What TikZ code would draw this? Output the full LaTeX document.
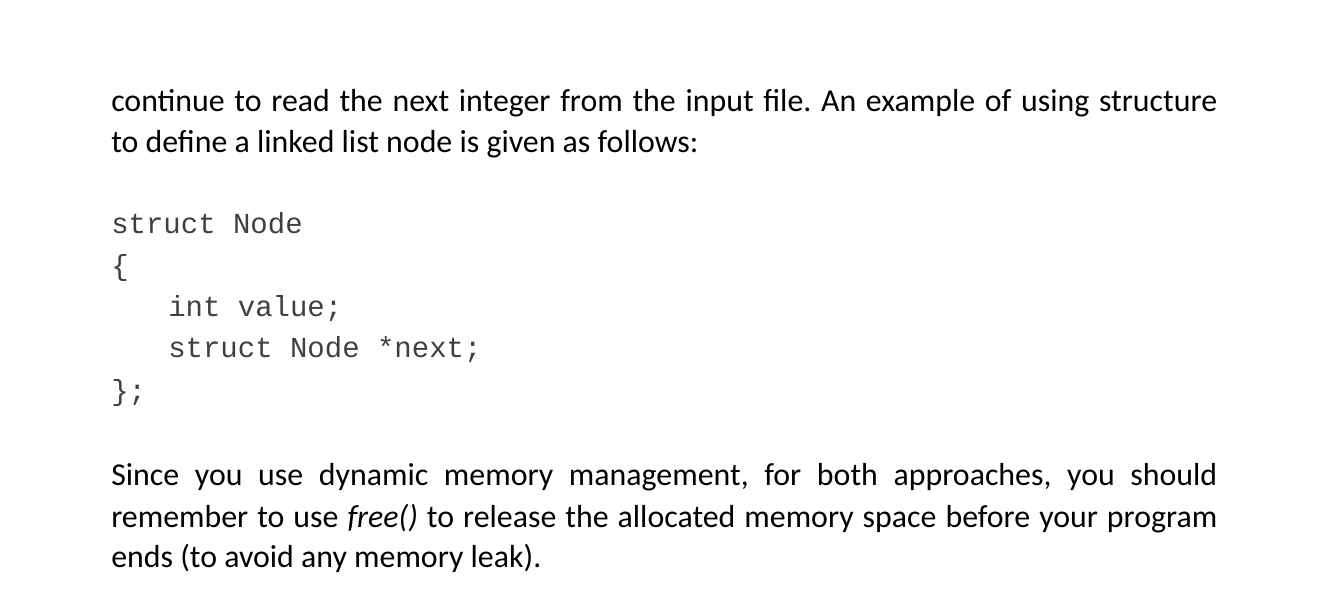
\documentclass[tikz,border=0pt]{standalone}
\usepackage{fontspec}
\setmainfont{Carlito}
\newfontfamily\codefont{Liberation Mono}
\frenchspacing
\tikzset{txt/.style={anchor=base west,inner sep=0pt,font=\fontsize{23.9}{28}\selectfont},
code/.style={anchor=base west,inner sep=0pt,font=\codefont\fontsize{21.75}{26}\selectfont\color{black!75}}}
\newcommand{\jline}[1]{\parbox{829.5pt}{\parfillskip=0pt #1\par}}
\begin{document}
\begin{tikzpicture}[x=0.75pt,y=-0.75pt]
\useasboundingbox[fill=white] (0,0) rectangle (1328,595);
\node[txt] (l1) at (111,111) {\jline{continue to read the next integer from the input file. An example of using structure}};
\node[txt] (l2) at (111,153) {to define a linked list node is given as follows:};
\node[code] (c1) at (111,234) {struct Node};
\node[code] (c2) at (111,276) {\{};
\node[code] (c3) at (168,317) {int value;};
\node[code] (c4) at (168,358) {struct Node *next;};
\node[code] (c5) at (111,400) {\};};
\node[txt] (p1) at (111,485) {\jline{Since you use dynamic memory management, for both approaches, you should}};
\node[txt] (p2) at (111,527) {\jline{remember to use \textit{free()} to release the allocated memory space before your program}};
\node[txt] (p3) at (111,567) {ends (to avoid any memory leak).};
\end{tikzpicture}
\end{document}
